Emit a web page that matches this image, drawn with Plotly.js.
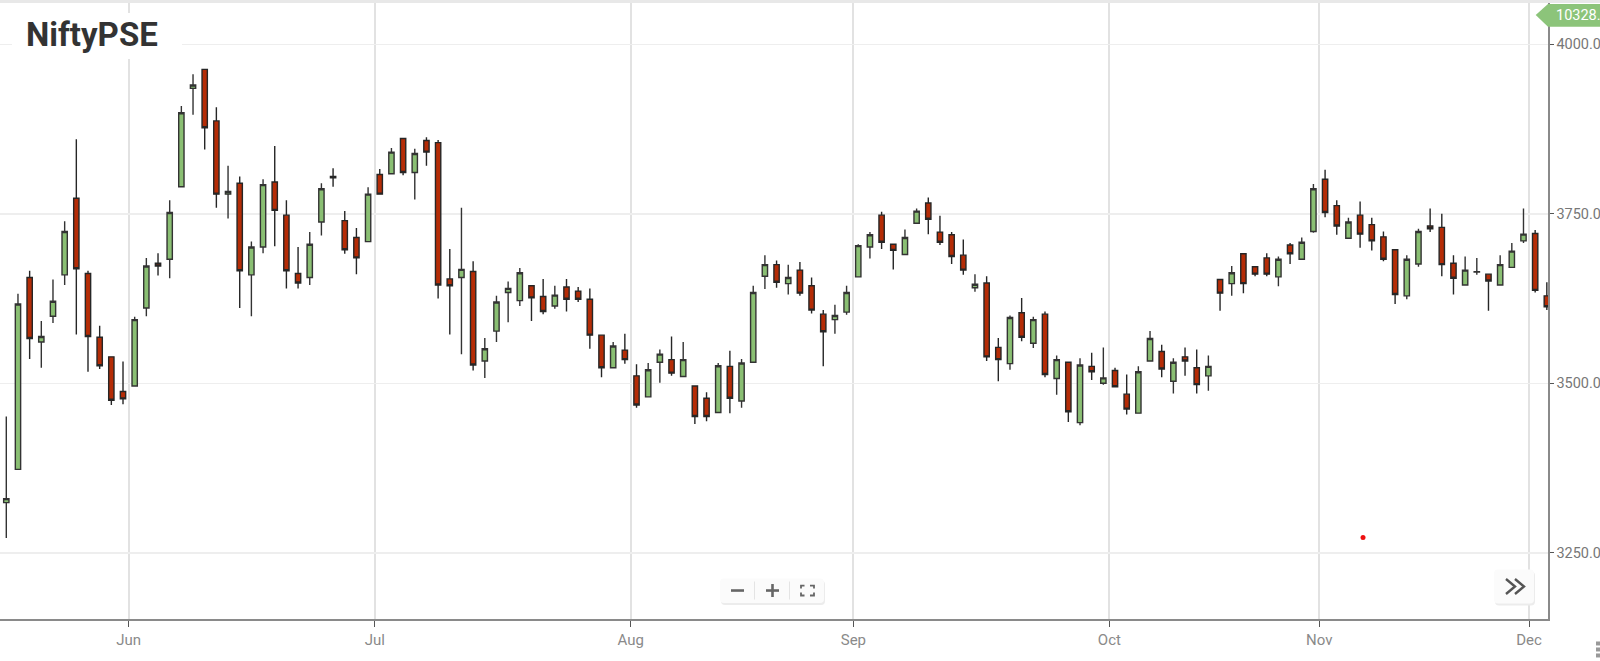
<!DOCTYPE html>
<html><head><meta charset="utf-8">
<script src="https://cdn.plot.ly/plotly-3.0.1.min.js"></script>
<style>html,body{margin:0;padding:0;background:#fff;overflow:hidden}#c{width:1600px;height:661px}</style>
</head><body><div id="c"></div>
<script>
const open=[3324,3373,3656,3561,3599,3660,3773,3662,3568,3539,
3488,3496,3611,3677,3683,3790,3935,3963,3887,3779,
3795,3660,3701,3797,3748,3662,3656,3738,3805,3740,
3715,3709,3808,3809,3861,3811,3858,3855,3654,3656,
3665,3533,3577,3634,3622,3644,3628,3614,3642,3636,
3624,3571,3523,3549,3511,3480,3531,3535,3510,3496,
3478,3457,3525,3474,3531,3658,3675,3647,3667,3644,
3602,3594,3605,3657,3701,3748,3705,3690,3736,3766,
3723,3719,3689,3641,3648,3553,3529,3604,3559,3602,
3507,3531,3442,3525,3500,3519,3484,3456,3533,3547,
3503,3539,3523,3511,3653,3647,3691,3672,3685,3657,
3704,3683,3724,3801,3762,3714,3748,3734,3716,3697,
3629,3676,3732,3730,3677,3645,3664,3661,3645,3671,
3710,3721,3629];
const high=[3451,3632,3666,3592,3653,3739,3860,3666,3585,3539,
3532,3598,3685,3692,3770,3909,3956,3963,3907,3821,
3805,3709,3801,3850,3770,3701,3723,3795,3817,3754,
3729,3789,3816,3847,3861,3846,3863,3859,3698,3759,
3680,3567,3629,3650,3670,3644,3654,3644,3654,3642,
3640,3572,3561,3573,3528,3530,3550,3569,3561,3496,
3487,3530,3548,3536,3644,3689,3681,3675,3679,3656,
3608,3616,3644,3705,3723,3753,3705,3727,3758,3774,
3747,3723,3712,3661,3658,3567,3600,3626,3598,3606,
3541,3532,3537,3545,3553,3523,3513,3525,3577,3557,
3537,3553,3550,3541,3653,3673,3692,3672,3692,3687,
3707,3715,3794,3815,3770,3744,3768,3744,3724,3697,
3689,3728,3758,3750,3689,3687,3685,3661,3689,3707,
3758,3726,3649];
const low=[3272,3372,3536,3523,3589,3645,3572,3517,3521,3468,
3469,3496,3599,3659,3655,3790,3896,3845,3759,3743,
3611,3599,3692,3702,3640,3640,3645,3718,3790,3691,
3661,3709,3778,3809,3807,3771,3821,3625,3572,3543,
3519,3508,3561,3590,3614,3592,3602,3610,3606,3620,
3551,3509,3523,3529,3464,3480,3501,3511,3510,3440,
3444,3457,3456,3464,3531,3639,3641,3631,3629,3603,
3525,3573,3601,3656,3684,3698,3668,3690,3735,3720,
3704,3676,3660,3635,3533,3503,3520,3562,3552,3509,
3483,3443,3438,3505,3498,3494,3454,3456,3533,3509,
3485,3511,3485,3489,3607,3629,3633,3658,3658,3643,
3676,3683,3722,3745,3719,3714,3700,3696,3680,3617,
3624,3672,3723,3658,3631,3645,3660,3607,3645,3671,
3707,3634,3608];
const close=[3330,3617,3566,3569,3621,3724,3669,3569,3526,3475,
3477,3594,3673,3673,3752,3899,3940,3877,3779,3783,
3666,3701,3793,3755,3666,3648,3705,3787,3803,3697,
3685,3779,3779,3841,3811,3839,3841,3645,3644,3668,
3527,3551,3620,3640,3663,3626,3606,3630,3624,3624,
3571,3523,3555,3535,3468,3520,3543,3515,3535,3451,
3451,3526,3478,3530,3634,3675,3649,3656,3633,3608,
3576,3600,3634,3703,3719,3708,3696,3715,3754,3742,
3708,3687,3667,3646,3539,3535,3597,3568,3594,3513,
3535,3458,3527,3517,3508,3495,3462,3517,3566,3521,
3531,3533,3498,3525,3633,3663,3647,3661,3661,3683,
3691,3708,3787,3752,3732,3738,3720,3710,3683,3631,
3683,3724,3728,3675,3655,3667,3664.5,3651,3675,3695,
3720,3637,3613];
const sessions=open.map((_,i)=>i);
const monthLabels=['Jun','Jul','Aug','Sep','Oct','Nov','Dec'];
const monthSessions=[10.49,31.57,53.5,72.58,94.52,112.5,130.48];
const priceTicks=[3250,3500,3750,4000];
const signalSession=[116.25];
const signalPrice=[3272.5];
const chartTitle='NiftyPSE';
const lastPriceLabel='10328.00';

const W=1548,T=3,B=619.5;
const px=x=>x/W, py=y=>1-(y-T)/(B-T);
const rr=(x0,y0,x1,y1,r)=>`M${px(x0+r)},${py(y0)}L${px(x1-r)},${py(y0)}Q${px(x1)},${py(y0)} ${px(x1)},${py(y0+r)}L${px(x1)},${py(y1-r)}Q${px(x1)},${py(y1)} ${px(x1-r)},${py(y1)}L${px(x0+r)},${py(y1)}Q${px(x0)},${py(y1)} ${px(x0)},${py(y1-r)}L${px(x0)},${py(y0+r)}Q${px(x0)},${py(y0)} ${px(x0+r)},${py(y0)}Z`;
const pl=pts=>pts.map((p,i)=>(i?'L':'M')+px(p[0])+','+py(p[1])).join('');
const sh=(path,o)=>Object.assign({type:'path',xref:'paper',yref:'paper',path:path,layer:'above',line:{width:0},fillcolor:'rgba(0,0,0,0)'},o||{});
const stroke=(path,c,w)=>sh(path,{line:{color:c,width:w}});

const shapes=[
 sh(pl([[0,0],[1600,0],[1600,3],[0,3]])+'Z',{fillcolor:'#e8e8e8'}),
 sh(pl([[12,13],[182,13],[182,59],[12,59]])+'Z',{fillcolor:'#ffffff'}),
 sh(pl([[1535.7,15],[1548,4],[1600,4],[1600,26.7],[1548,26.7]])+'Z',{fillcolor:'#8cc47a'}),
 sh(rr(721,581,825,605.5,4),{fillcolor:'#ececec'}),
 sh(rr(720,579,824,603.5,4),{fillcolor:'#fbfbfb'}),
 stroke(pl([[754.5,582],[754.5,600]]),'#e4e4e4',1),
 stroke(pl([[789.5,582],[789.5,600]]),'#e4e4e4',1),
 stroke(pl([[731,591],[744,591]]),'#666',2.6),
 stroke(pl([[766,591],[779,591]]),'#666',2.6),
 stroke(pl([[772.5,584.5],[772.5,597.5]]),'#666',2.6),
 stroke(pl([[801,589],[801,586],[804.5,586]]),'#666',1.8),
 stroke(pl([[810,586],[814,586],[814,589]]),'#666',1.8),
 stroke(pl([[801,593],[801,596],[804.5,596]]),'#666',1.8),
 stroke(pl([[810,596],[814,596],[814,593]]),'#666',1.8),
 sh(rr(1495,572,1535,606,4),{fillcolor:'#ececec'}),
 sh(rr(1494,570,1534,604,4),{fillcolor:'#fbfbfb'}),
 stroke(pl([[1506,579.5],[1515,587],[1506,594.5]]),'#555',2.4),
 stroke(pl([[1515,579.5],[1524,587],[1515,594.5]]),'#555',2.4),
 sh(pl([[1596,642],[1600,642],[1600,646],[1596,646]])+'Z',{fillcolor:'#999'}),
 sh(pl([[1596,648],[1600,648],[1600,652],[1596,652]])+'Z',{fillcolor:'#999'}),
 sh(pl([[1596,654],[1600,654],[1600,658],[1596,658]])+'Z',{fillcolor:'#999'})
];

const traces=[{
 type:'candlestick',x:sessions,open:open,high:high,low:low,close:close,
 increasing:{line:{color:'#333333',width:1.4},fillcolor:'#8abf73'},
 decreasing:{line:{color:'#262626',width:1.4},fillcolor:'#b52c06'},
 whiskerwidth:0,hoverinfo:'none',showlegend:false
},{
 type:'scatter',mode:'markers',x:signalSession,y:signalPrice,
 marker:{color:'#ee1111',size:5},hoverinfo:'none',showlegend:false
}];

const layout={
 width:1600,height:661,paper_bgcolor:'#fff',plot_bgcolor:'#fff',
 margin:{l:0,r:52,t:T,b:661-B,pad:0},
 showlegend:false,boxgap:0.35,
 font:{family:'Roboto, sans-serif'},
 xaxis:{type:'linear',range:[-0.54,132.1],tickmode:'array',tickvals:monthSessions,ticktext:monthLabels,
  rangeslider:{visible:false},showgrid:true,gridcolor:'#e2e2e2',gridwidth:2,zeroline:false,
  showline:true,linecolor:'#8a8a8a',linewidth:1.5,ticks:'outside',ticklen:6,tickcolor:'#555',tickwidth:1,
  tickfont:{family:'Roboto',size:15,color:'#8a8a8a'},ticklabeloverflow:'allow'},
 yaxis:{side:'right',type:'linear',range:[3152.4,4060.9],tickmode:'array',tickvals:priceTicks,tickformat:'.2f',
  showgrid:true,gridcolor:'#eeeeee',gridwidth:1.5,zeroline:false,
  showline:true,linecolor:'#8a8a8a',linewidth:1.5,ticks:'outside',ticklen:4,tickcolor:'#555',tickwidth:1,
  tickfont:{family:'Roboto',size:14.5,color:'#777'},ticklabeloverflow:'allow'},
 shapes:shapes,
 annotations:[
  {xref:'paper',yref:'paper',x:px(24),y:py(35),xanchor:'left',yanchor:'middle',showarrow:false,
   text:'<b>'+chartTitle+'</b>',font:{family:'Roboto',size:33,color:'#333'}},
  {xref:'paper',yref:'paper',x:px(1554),y:py(15.5),xanchor:'left',yanchor:'middle',showarrow:false,
   text:lastPriceLabel,font:{family:'Roboto',size:14.5,color:'#fff'}}
 ]
};
Plotly.newPlot('c',traces,layout,{displayModeBar:false,staticPlot:true});
</script></body></html>
